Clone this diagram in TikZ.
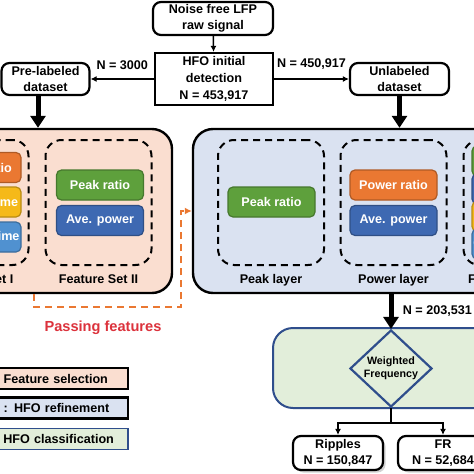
\documentclass[tikz,border=0pt]{standalone}
\usepackage{fontspec}
\setmainfont{Liberation Sans}
\usetikzlibrary{shapes.geometric,arrows.meta,shadows,positioning}
\definecolor{peach}{RGB}{250,222,208}
\definecolor{pale}{RGB}{218,226,241}
\definecolor{mint}{RGB}{226,238,218}
\definecolor{orng}{RGB}{234,120,50}
\definecolor{gren}{RGB}{94,160,60}
\definecolor{blu}{RGB}{62,105,178}
\definecolor{yel}{RGB}{245,185,25}
\definecolor{sky}{RGB}{80,145,208}
\definecolor{ink}{RGB}{47,78,140}
\definecolor{redtxt}{RGB}{220,50,60}
\newcommand{\fnt}[0]{\fontsize{12.6}{15.5}\selectfont\bfseries}
\newcommand{\feat}[4]{\node[feat, fill=#3, draw=#3!75!black] (#1) at (#2) {#4}}
\newcommand{\setof}[3]{\node[setbox] (#1) at (#2) {};
	\node[below=5pt of #1, font=\fnt] (#1lab) {#3}}
\tikzset{
	panel/.style={draw, line width=2.2pt, rounded corners=8pt, fill=white,
		align=center, font=\fnt, inner sep=0pt},
	stage/.style={draw, line width=2.4pt, rounded corners=20pt},
	setbox/.style={draw, dash pattern=on 7pt off 5pt, line width=2pt,
		rounded corners=16pt, minimum width=106pt, minimum height=125pt},
	feat/.style={line width=1.2pt, rounded corners=5pt, minimum width=87pt,
		minimum height=30pt, text=white, font=\fnt, inner sep=0pt},
	arr/.style={-{Latex[length=6pt,width=6pt]}, line width=1.5pt},
	fatarr/.style={-{Triangle[length=12pt,width=15pt]}, line width=5pt},
	pass/.style={-{Latex[length=7pt,width=7pt]}, draw=orng, dash pattern=on 7pt off 5pt,
		line width=2pt},
	keybox/.style={draw, line width=2.2pt, anchor=west, minimum width=130pt,
		minimum height=21pt, text width=119pt, align=left, inner xsep=5.5pt,
		inner ysep=0pt, font=\fnt},
	shade/.style={drop shadow={shadow xshift=2.5pt, shadow yshift=-2.5pt, fill=black!35}}
}
\begin{document}
\begin{tikzpicture}[x=1pt, y=-1pt]
	\path[use as bounding box, fill=white] (0,0) rectangle (474,474);
	\clip (0,0) rectangle (474,474);
%The detection
	\node[panel, minimum width=120pt, minimum height=33pt] (raw) at (213,18.5) {Noise free LFP\\raw signal};
	\node[panel, rounded corners=0pt, minimum width=118pt, minimum height=52pt] (init) at (214,79)
		{HFO initial\\[1.5pt]detection\\[1.5pt]N = 453,917};
	\node[panel, minimum width=88pt, minimum height=32pt] (pre) at (45.5,79) {Pre-labeled\\dataset};
	\node[panel, minimum width=99pt, minimum height=32pt] (unl) at (399.5,79) {Unlabeled\\dataset};
	\draw[arr] (raw) -- (init);
	\draw[arr] (init) -- node[above=5pt, font=\fnt] {N = 3000} (pre);
	\draw[arr] (init) -- node[above=5pt, font=\fnt] {N = 450,917} (unl);
%Feature selection
	\node[stage, fill=peach, minimum width=270pt, minimum height=164pt] (sel) at (37,211) {};
	\setof{setI}{-24.5,202.5}{Feature Set I};
	\setof{setII}{98.5,202.5}{Feature Set II};
	\feat{fIa}{-22.5,167.5}{orng}{Power ratio};
	\feat{fIb}{-22.5,202}{yel}{Duration time};
	\feat{fIc}{-22.5,237}{sky}{Crossing time};
	\feat{fIIa}{100,185}{gren}{Peak ratio};
	\feat{fIIb}{100,220.5}{blu}{Ave. power};
%HFO refinement
	\node[stage, fill=pale, minimum width=407pt, minimum height=164pt] (ref) at (396.5,211) {};
	\setof{peak}{271,202.5}{Peak layer};
	\setof{power}{393.5,202.5}{Power layer};
	\setof{freq}{516.5,202.5}{Frequency layer};
	\feat{pka}{271.5,202}{gren}{Peak ratio};
	\feat{pwa}{393.5,185}{orng}{Power ratio};
	\feat{pwb}{393.5,220.5}{blu}{Ave. power};
	\begin{scope}[every node/.append style={minimum height=25pt}]
		\feat{fqa}{515.5,161}{gren}{Peak ratio};
		\feat{fqb}{515.5,189}{blu}{Ave. power};
		\feat{fqc}{515.5,216.5}{yel}{Duration time};
		\feat{fqd}{515.5,244}{sky}{Crossing time};
	\end{scope}
	\draw[fatarr] ([xshift=-7.5pt]pre.south) -- ([xshift=-7.5pt]pre.south |- sel.north);
	\draw[fatarr] (unl.south) -- (unl.south |- ref.north);
%Passing features
	\draw[pass] ([xshift=-3pt]sel.south) -- ++(0,13) -| ([xshift=-11pt]ref.west) -- (ref.west);
	\node[font=\fontsize{14.6}{17}\selectfont\bfseries, text=redtxt] (passlab) at (103,328) {Passing features};
%HFO classification
	\node[stage, draw=ink, line width=2pt, fill=mint, minimum width=330pt, minimum height=80pt] (cls) at (438,368) {};
	\node[diamond, draw=ink, line width=2.2pt, fill=mint, align=center, inner sep=0pt,
		shape aspect=1.07, minimum width=82pt, minimum height=77pt,
		font=\fontsize{10.7}{13.3}\selectfont\bfseries] (wf) at (391,368.5) {Weighted\\Frequency};
	\draw[fatarr] (wf.north |- ref.south) -- node[right=6pt, font=\fnt] {N = 203,531} (wf.north);
	\node[panel, shade, minimum width=90pt, minimum height=34pt] (rip) at (338,453) {Ripples\\N = 150,847};
	\node[panel, shade, minimum width=90pt, minimum height=34pt] (fr) at (443,453) {FR\\N = 52,684};
	\draw[arr] (wf.south) -- ++(0,15) -| (rip.north);
	\draw[arr] (wf.south) -- ++(0,15) -| (fr.north);
%The legend
	\node[keybox, fill=peach] (keysel) at (-3,378.5) {Feature selection};
	\node[keybox, fill=pale] (keyref) at (-3,408) {: HFO refinement};
	\node[keybox, fill=mint, draw=ink, line width=1.6pt] (keycls) at (-3,439) {HFO classification};
\end{tikzpicture}
\end{document}
